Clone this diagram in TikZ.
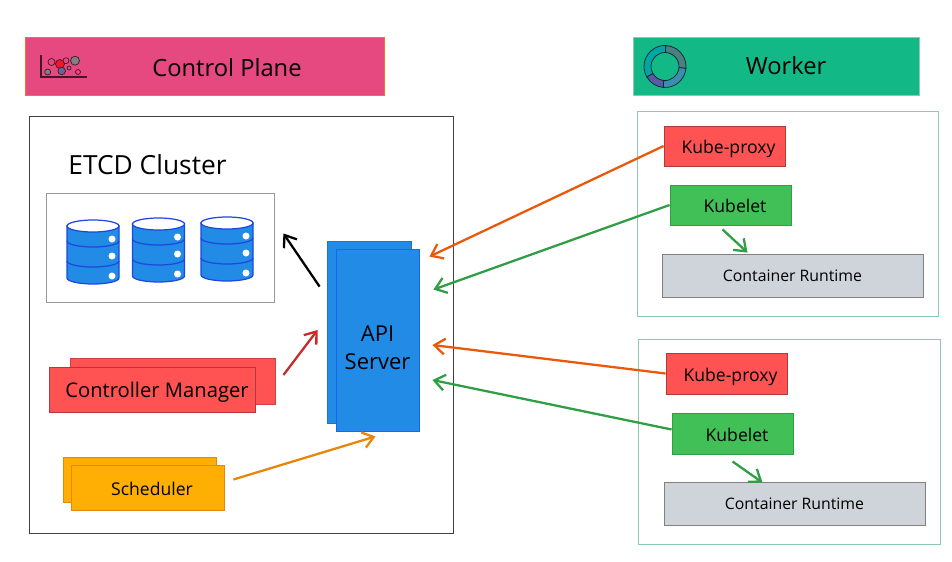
\documentclass[tikz,border=0pt]{standalone}
\usepackage{fontspec}
\setmainfont{Open Sans}
\usetikzlibrary{arrows.meta}

\definecolor{planepink}{HTML}{E64980}
\definecolor{workerteal}{HTML}{12B886}
\definecolor{apiblue}{HTML}{228BE6}
\definecolor{dbline}{HTML}{1C47E0}
\definecolor{boxred}{HTML}{FF5252}
\definecolor{boxamber}{HTML}{FFAE03}
\definecolor{boxgreen}{HTML}{40C057}
\definecolor{boxgrey}{HTML}{CED4DA}
\definecolor{framegreen}{HTML}{8CC9B0}
\definecolor{arroworange}{HTML}{E8590C}
\definecolor{arrowgreen}{HTML}{2F9E44}
\definecolor{arrowred}{HTML}{C92A2A}
\definecolor{arrowamber}{HTML}{E8860C}

\tikzset{
    plate/.style={draw, inner sep=0pt, line width=0.5pt, font=\fontsize{10}{12}\selectfont},
    box/.style={plate, text height=9pt, text depth=0pt},
    banner/.style={plate, text height=12pt, text depth=0pt, font=\fontsize{13.5}{16}\selectfont},
    frame/.style={draw, line width=0.5pt},
    link/.style={line width=1.3pt, -{Straight Barb[length=6pt,width=9pt]}},
}

\begin{document}
\begin{tikzpicture}[x=0.02cm,y=-0.02cm]

    \useasboundingbox (0,0) rectangle (952,561);

    % banners
    \node[banner, fill=planepink, draw=orange!70!planepink, minimum width=7.18cm, minimum height=1.16cm]
        (plane) at (204.5,66) {\hspace{0.9cm}Control Plane};
    \node[banner, fill=workerteal, draw=framegreen, text height=10pt, minimum width=5.72cm, minimum height=1.16cm]
        (worker) at (776,66) {\hspace{0.4cm}Worker};

    % bubble icon
    \draw[black!70!planepink, line width=0.6pt] (41,55) -- (41,77) -- (87,77);
    \foreach \x/\y/\r/\c in {51.5/62/3.5/planepink, 60/64/4.5/red!70!planepink, 66/60.7/3/planepink,
        75/60.7/4.5/gray, 47.7/72/3/gray, 61.7/71/3.8/gray!80!blue, 69/68/2/gray!50!planepink, 78/72/2.5/planepink}
        \draw[black!70!planepink, line width=0.4pt, fill=\c] (\x,\y) circle (\r);

    % ring icon
    \begin{scope}[shift={(665,66.5)}]
    \foreach \a/\b/\c in {150/272/teal!70!cyan, 272/365/gray!60!teal, 5/95/cyan!50!teal!90!black, 95/150/blue!30!gray}
        \draw[black!70!teal, line width=0.4pt, fill=\c] (\a:21) arc (\a:\b:21) -- (\b:14) arc (\b:\a:14) -- cycle;
    \end{scope}

    % control plane
    \node[frame, draw=black!75, minimum width=8.48cm, minimum height=8.34cm] (control) at (241,324.5) {};
    \node[font=\fontsize{15}{17}\selectfont] (etcdTitle) at (147.5,165) {ETCD Cluster};
    \node[frame, draw=black!40, minimum width=4.56cm, minimum height=2.18cm] (etcd) at (160,247.5) {};

    % etcd drums
    \foreach \x/\y in {93/226, 158.5/224, 227/223}{
        \begin{scope}[shift={(\x,\y)}]
        \draw[dbline, line width=0.7pt, fill=apiblue] (-26,0) -- (-26,52) arc (180:0:26 and 6) -- (26,0) -- cycle;
        \draw[dbline, line width=0.7pt, fill=white] (0,0) ellipse (26 and 6);
        \draw[dbline, line width=0.7pt] (-26,15) arc (180:0:26 and 6);
        \draw[dbline, line width=0.7pt] (-26,35) arc (180:0:26 and 6);
        \foreach \d in {13,30,50}
            \fill[white] (19,\d) circle (3.5);
        \end{scope}
    }

    \node[plate, fill=apiblue, draw=apiblue!85!black, minimum width=1.68cm, minimum height=3.64cm] (apiBack) at (369,332) {};
    \node[plate, fill=apiblue, draw=blue!25!apiblue, minimum width=1.66cm, minimum height=3.64cm, align=center,
        font=\fontsize{12.5}{16}\selectfont] (api) at (377.5,340) {\rule{0pt}{0.62cm}API\\Server};

    \node[plate, fill=boxred, draw=boxred!80!black, minimum width=4.10cm, minimum height=0.92cm] (managerBack) at (172.5,381) {};
    \node[box, fill=boxred, draw=boxred!70!black, minimum width=4.12cm, minimum height=0.90cm,
        font=\fontsize{11.5}{14}\selectfont] (manager) at (152,389.5) {\hspace{0.2cm}Controller Manager};

    \node[plate, fill=boxamber, draw=arrowamber, minimum width=3.06cm, minimum height=0.90cm] (schedulerBack) at (139.5,479.5) {};
    \node[box, fill=boxamber, draw=arrowamber, minimum width=3.06cm, minimum height=0.90cm] (scheduler) at (147.5,487.5) {\hspace{0.18cm}Scheduler};

    % worker one
    \node[frame, draw=framegreen, minimum width=6.02cm, minimum height=4.10cm] (nodeA) at (787.5,213.5) {};
    \node[box, fill=boxred, draw=boxred!70!black, minimum width=2.42cm, minimum height=0.80cm] (proxyA) at (724.5,146) {\hspace{0.16cm}Kube-proxy};
    \node[box, fill=boxgreen, draw=arrowgreen, minimum width=2.42cm, minimum height=0.80cm] (kubeletA) at (730.5,205) {\hspace{0.18cm}Kubelet};
    \node[box, fill=boxgrey, draw=black!50, text height=6.5pt, minimum width=5.22cm, minimum height=0.86cm,
        font=\fontsize{9}{11}\selectfont] (runtimeA) at (792.5,275.5) {Container Runtime};

    % worker two
    \node[frame, draw=framegreen, minimum width=6.04cm, minimum height=4.10cm] (nodeB) at (789,441.5) {};
    \node[box, fill=boxred, draw=boxred!70!black, minimum width=2.42cm, minimum height=0.82cm] (proxyB) at (726.5,373.5) {\hspace{0.16cm}Kube-proxy};
    \node[box, fill=boxgreen, draw=arrowgreen, minimum width=2.42cm, minimum height=0.82cm] (kubeletB) at (732.5,433.5) {\hspace{0.18cm}Kubelet};
    \node[box, fill=boxgrey, draw=black!50, text height=6.5pt, minimum width=5.22cm, minimum height=0.86cm,
        font=\fontsize{9}{11}\selectfont] (runtimeB) at (794.5,503.5) {Container Runtime};

    % arrows
    \draw[link, black] ([shift={(-7,46)}]apiBack.north west) -- ([shift={(9,-14)}]etcd.east);
    \draw[link, arrowred] ([shift={(8,-6)}]managerBack.east) -- ([shift={(-9,-2)}]apiBack.west);
    \draw[link, arrowamber] ([shift={(9,-8)}]scheduler.east) -- ([shift={(-2,5)}]api.south);
    \draw[link, arroworange] (proxyA.west) -- ([shift={(10,8)}]api.north east);
    \draw[link, arrowgreen] (kubeletA.west) -- ([shift={(14,41)}]api.north east);
    \draw[link, arroworange] (proxyB.west) -- ([shift={(13,5)}]api.east);
    \draw[link, arrowgreen] ([yshift=0.08cm]kubeletB.west) -- ([shift={(13,40)}]api.east);
    \draw[link, arrowgreen] ([shift={(-8,4)}]kubeletA.south) -- ([shift={(-45,-1)}]runtimeA.north);
    \draw[link, arrowgreen] ([shift={(0,7)}]kubeletB.south) -- ([shift={(-32,1)}]runtimeB.north);

\end{tikzpicture}
\end{document}
